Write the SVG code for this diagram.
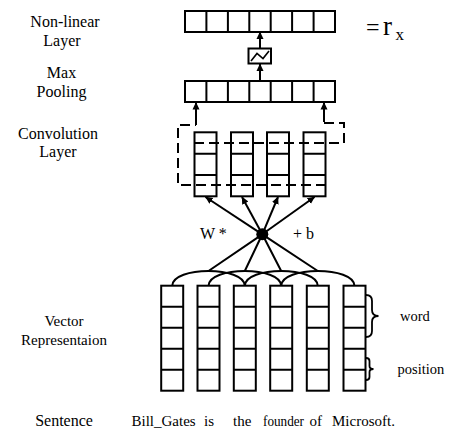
<svg xmlns="http://www.w3.org/2000/svg" width="474" height="434" viewBox="0 0 474 434">
<style>
.b{fill:#fff;stroke:#000;stroke-width:2}
.l{fill:none;stroke:#000;stroke-width:2}
.d{fill:none;stroke:#000;stroke-width:2;stroke-dasharray:10 5}
</style>
<defs>
<marker id="ah" markerWidth="8" markerHeight="8" refX="7" refY="4" orient="auto" markerUnits="userSpaceOnUse">
<path d="M0,0.5 L7.5,4 L0,7.5 Z" fill="#000"/>
</marker>
</defs>
<rect width="474" height="434" fill="#fff"/>

<g id="labels" font-family="Liberation Serif" font-size="16" text-anchor="middle" fill="#000">
<text font-family="Liberation Serif" x="65" y="27">Non-linear</text>
<text font-family="Liberation Serif" x="62" y="46">Layer</text>
<text font-family="Liberation Serif" x="61.5" y="78">Max</text>
<text font-family="Liberation Serif" x="61.5" y="97">Pooling</text>
<text font-family="Liberation Serif" x="58" y="139">Convolution</text>
<text font-family="Liberation Serif" x="58" y="157">Layer</text>
<text font-family="Liberation Serif" font-size="15" x="64" y="326">Vector</text>
<text font-family="Liberation Serif" font-size="15" x="64" y="345">Representaion</text>
<text font-family="Liberation Serif" x="64" y="426">Sentence</text>
</g>

<g id="nonlinear-layer">
<rect class="b" x="185" y="11" width="150" height="21"/>
<path class="l" d="M206.4 11V32M227.9 11V32M249.3 11V32M270.7 11V32M292.1 11V32M313.6 11V32"/>
</g>
<g id="rx">
<text font-family="Liberation Serif" x="366" y="35" font-size="24">=<tspan x="383" font-size="27">r</tspan><tspan x="395.5" y="40" font-size="17">x</tspan></text>
</g>

<g id="activation">
<rect class="b" x="248.5" y="48.5" width="22.5" height="15"/>
<path class="l" style="stroke-width:1.6" d="M251 61L257 53.5L263 58.5L269 51"/>
</g>

<g id="max-pooling">
<rect class="b" x="185" y="81" width="150" height="21"/>
<path class="l" d="M206.4 81V102M227.9 81V102M249.3 81V102M270.7 81V102M292.1 81V102M313.6 81V102"/>
</g>

<g id="conv-1"><rect class="b" x="194.5" y="132.3" width="22" height="64"/><path class="l" d="M194.5 153.7H216.5M194.5 175H216.5"/></g>
<g id="conv-2"><rect class="b" x="231" y="132.3" width="22" height="64"/><path class="l" d="M231 153.7H253M231 175H253"/></g>
<g id="conv-3"><rect class="b" x="267" y="132.3" width="22" height="64"/><path class="l" d="M267 153.7H289M267 175H289"/></g>
<g id="conv-4"><rect class="b" x="303.5" y="132.3" width="22" height="64"/><path class="l" d="M303.5 153.7H325.5M303.5 175H325.5"/></g>

<g id="dot"><circle cx="262.3" cy="234.3" r="6" fill="#000"/></g>
<text font-family="Liberation Serif" font-size="16" x="200" y="239">W *</text>
<text font-family="Liberation Serif" font-size="16" x="293" y="239">+ b</text>

<g id="vec-1"><rect class="b" x="161.2" y="285.7" width="22" height="105"/><path class="l" d="M161.2 306.7H183.2M161.2 327.7H183.2M161.2 348.7H183.2M161.2 369.7H183.2"/></g>
<g id="vec-2"><rect class="b" x="197.5" y="285.7" width="22" height="105"/><path class="l" d="M197.5 306.7H219.5M197.5 327.7H219.5M197.5 348.7H219.5M197.5 369.7H219.5"/></g>
<g id="vec-3"><rect class="b" x="233.8" y="285.7" width="22" height="105"/><path class="l" d="M233.8 306.7H255.8M233.8 327.7H255.8M233.8 348.7H255.8M233.8 369.7H255.8"/></g>
<g id="vec-4"><rect class="b" x="270.2" y="285.7" width="22" height="105"/><path class="l" d="M270.2 306.7H292.2M270.2 327.7H292.2M270.2 348.7H292.2M270.2 369.7H292.2"/></g>
<g id="vec-5"><rect class="b" x="306.8" y="285.7" width="22" height="105"/><path class="l" d="M306.8 306.7H328.8M306.8 327.7H328.8M306.8 348.7H328.8M306.8 369.7H328.8"/></g>
<g id="vec-6"><rect class="b" x="343.5" y="285.7" width="22" height="105"/><path class="l" d="M343.5 306.7H365.5M343.5 327.7H365.5M343.5 348.7H365.5M343.5 369.7H365.5"/></g>

<g id="braces">
<path class="l" style="stroke-width:1.8" d="M366 295Q372 295 372 301V310Q372 316 378.5 316Q372 316 372 322V331Q372 337 366 337"/>
<path class="l" style="stroke-width:1.8" d="M366 358Q369.5 358 369.5 361V366Q369.5 369 373.5 369Q369.5 369 369.5 372V377Q369.5 380 366 380"/>
<text font-family="Liberation Serif" font-size="14.5" x="400" y="321">word</text>
<text font-family="Liberation Serif" font-size="14.5" x="397.5" y="374">position</text>
</g>

<g id="sentence" font-family="Liberation Serif" font-size="15">
<text font-family="Liberation Serif" x="131.5" y="426">Bill_Gates</text>
<text font-family="Liberation Serif" x="204" y="426">is</text>
<text font-family="Liberation Serif" x="233" y="426">the</text>
<text font-family="Liberation Serif" x="263" y="426" textLength="41" lengthAdjust="spacingAndGlyphs">founder</text>
<text font-family="Liberation Serif" x="309.5" y="426">of</text>
<text font-family="Liberation Serif" x="332" y="426">Microsoft.</text>
</g>

<g id="connectors">
<line class="l" x1="260" y1="81" x2="260" y2="64" marker-end="url(#ah)"/>
<line class="l" x1="260" y1="48.5" x2="260" y2="32" marker-end="url(#ah)"/>
<path class="d" d="M324 123H344V143H194"/>
<line class="l" x1="324" y1="122" x2="324" y2="102.5" marker-end="url(#ah)"/>
<path class="d" d="M326 185H178V125H196"/>
<line class="l" x1="196" y1="125" x2="196" y2="102.5" marker-end="url(#ah)"/>
<line class="l" x1="262.3" y1="234.3" x2="205.5" y2="197" marker-end="url(#ah)"/>
<line class="l" x1="262.3" y1="234.3" x2="242" y2="197" marker-end="url(#ah)"/>
<line class="l" x1="262.3" y1="234.3" x2="278" y2="197" marker-end="url(#ah)"/>
<line class="l" x1="262.3" y1="234.3" x2="314.5" y2="197" marker-end="url(#ah)"/>
<path class="l" d="M262.3 234.3L208.5 271M262.3 234.3L244.8 271M262.3 234.3L281.2 271M262.3 234.3L317.8 271"/>
<path class="l" d="M172.2 286C172.2 266 244.8 266 244.8 286"/>
<path class="l" d="M208.5 286C208.5 266 281.2 266 281.2 286"/>
<path class="l" d="M244.8 286C244.8 266 317.8 266 317.8 286"/>
<path class="l" d="M281.2 286C281.2 266 354.5 266 354.5 286"/>
</g>
</svg>
